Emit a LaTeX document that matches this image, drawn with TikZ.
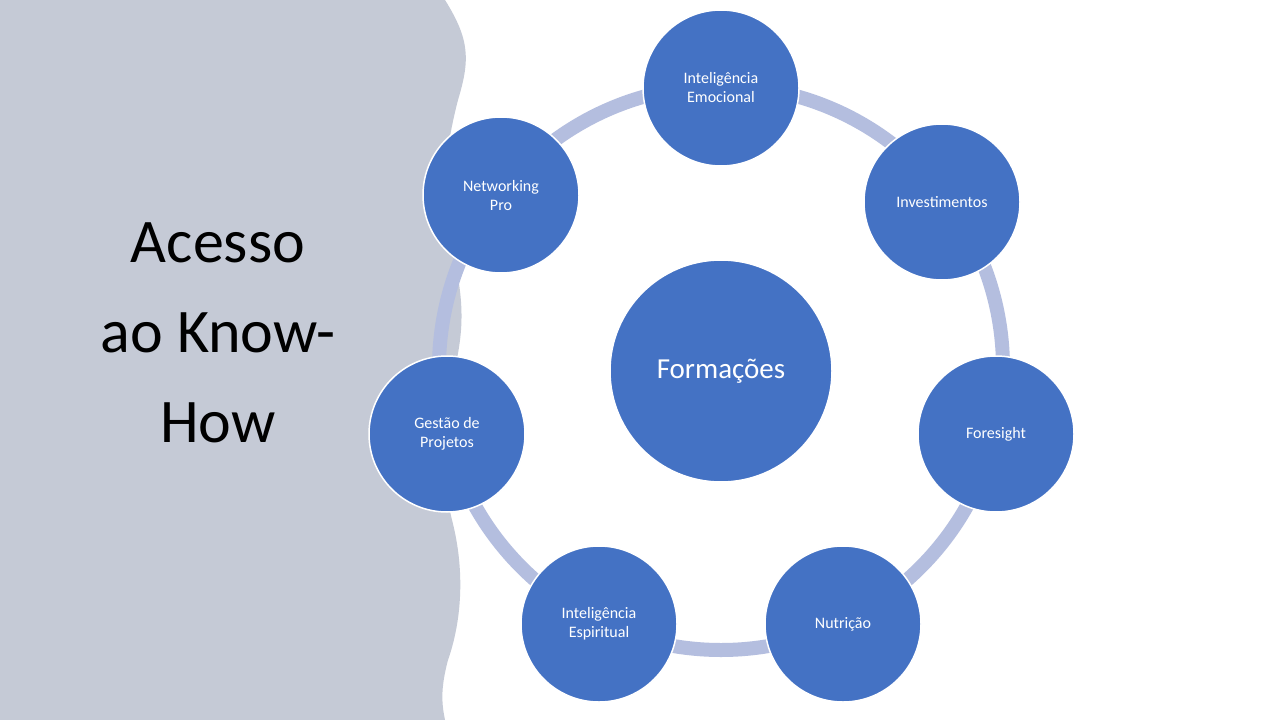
\documentclass[tikz,border=0pt]{standalone}
\usepackage{fontspec}
\setmainfont{Carlito}
\definecolor{panel}{HTML}{C5CAD6}
\definecolor{ring}{HTML}{B4BEDF}
\definecolor{blue}{HTML}{4472C4}
\begin{document}
\begin{tikzpicture}[x=1pt,y=-1pt,
  sat/.style={circle,fill=blue,draw=white,line width=1.5pt,minimum size=156pt,inner sep=0pt,align=center,text=white,font=\fontsize{16}{19}\selectfont}]
\useasboundingbox (0,0) rectangle (1280,720);
\fill[white] (0,0) rectangle (1280,720);
\fill[panel] (0,0) -- (445,0) .. controls (470,40) and (470,60) .. (458,100)
  .. controls (445,150) and (440,200) .. (450,240)
  .. controls (465,300) and (465,330) .. (452,380)
  .. controls (440,430) and (440,470) .. (452,520)
  .. controls (465,570) and (462,620) .. (448,660)
  .. controls (440,690) and (442,705) .. (445,720) -- (0,720) -- cycle;
\node[font=\fontsize{62}{90}\selectfont,align=center] (title) at (218,333) {Acesso\\ao Know-\\How};
\coordinate (rc) at (721,368);
\draw[ring,line width=14pt] (rc) circle[radius=282];
\node[sat,minimum size=222pt,font=\fontsize{29}{34}\selectfont] (c) at (721,371) {Formações};
\node[sat] (a) at (721,88) {Inteligência\\Emocional};
\node[sat] (b) at (942,202) {Investimentos};
\node[sat] (f) at (996,434) {Foresight};
\node[sat] (n) at (843,624) {Nutrição};
\node[sat] (e) at (599,624) {Inteligência\\Espiritual};
\node[sat] (g) at (447,434) {Gestão de\\Projetos};
\node[sat] (w) at (501,195) {Networking\\Pro};
\end{tikzpicture}
\end{document}
